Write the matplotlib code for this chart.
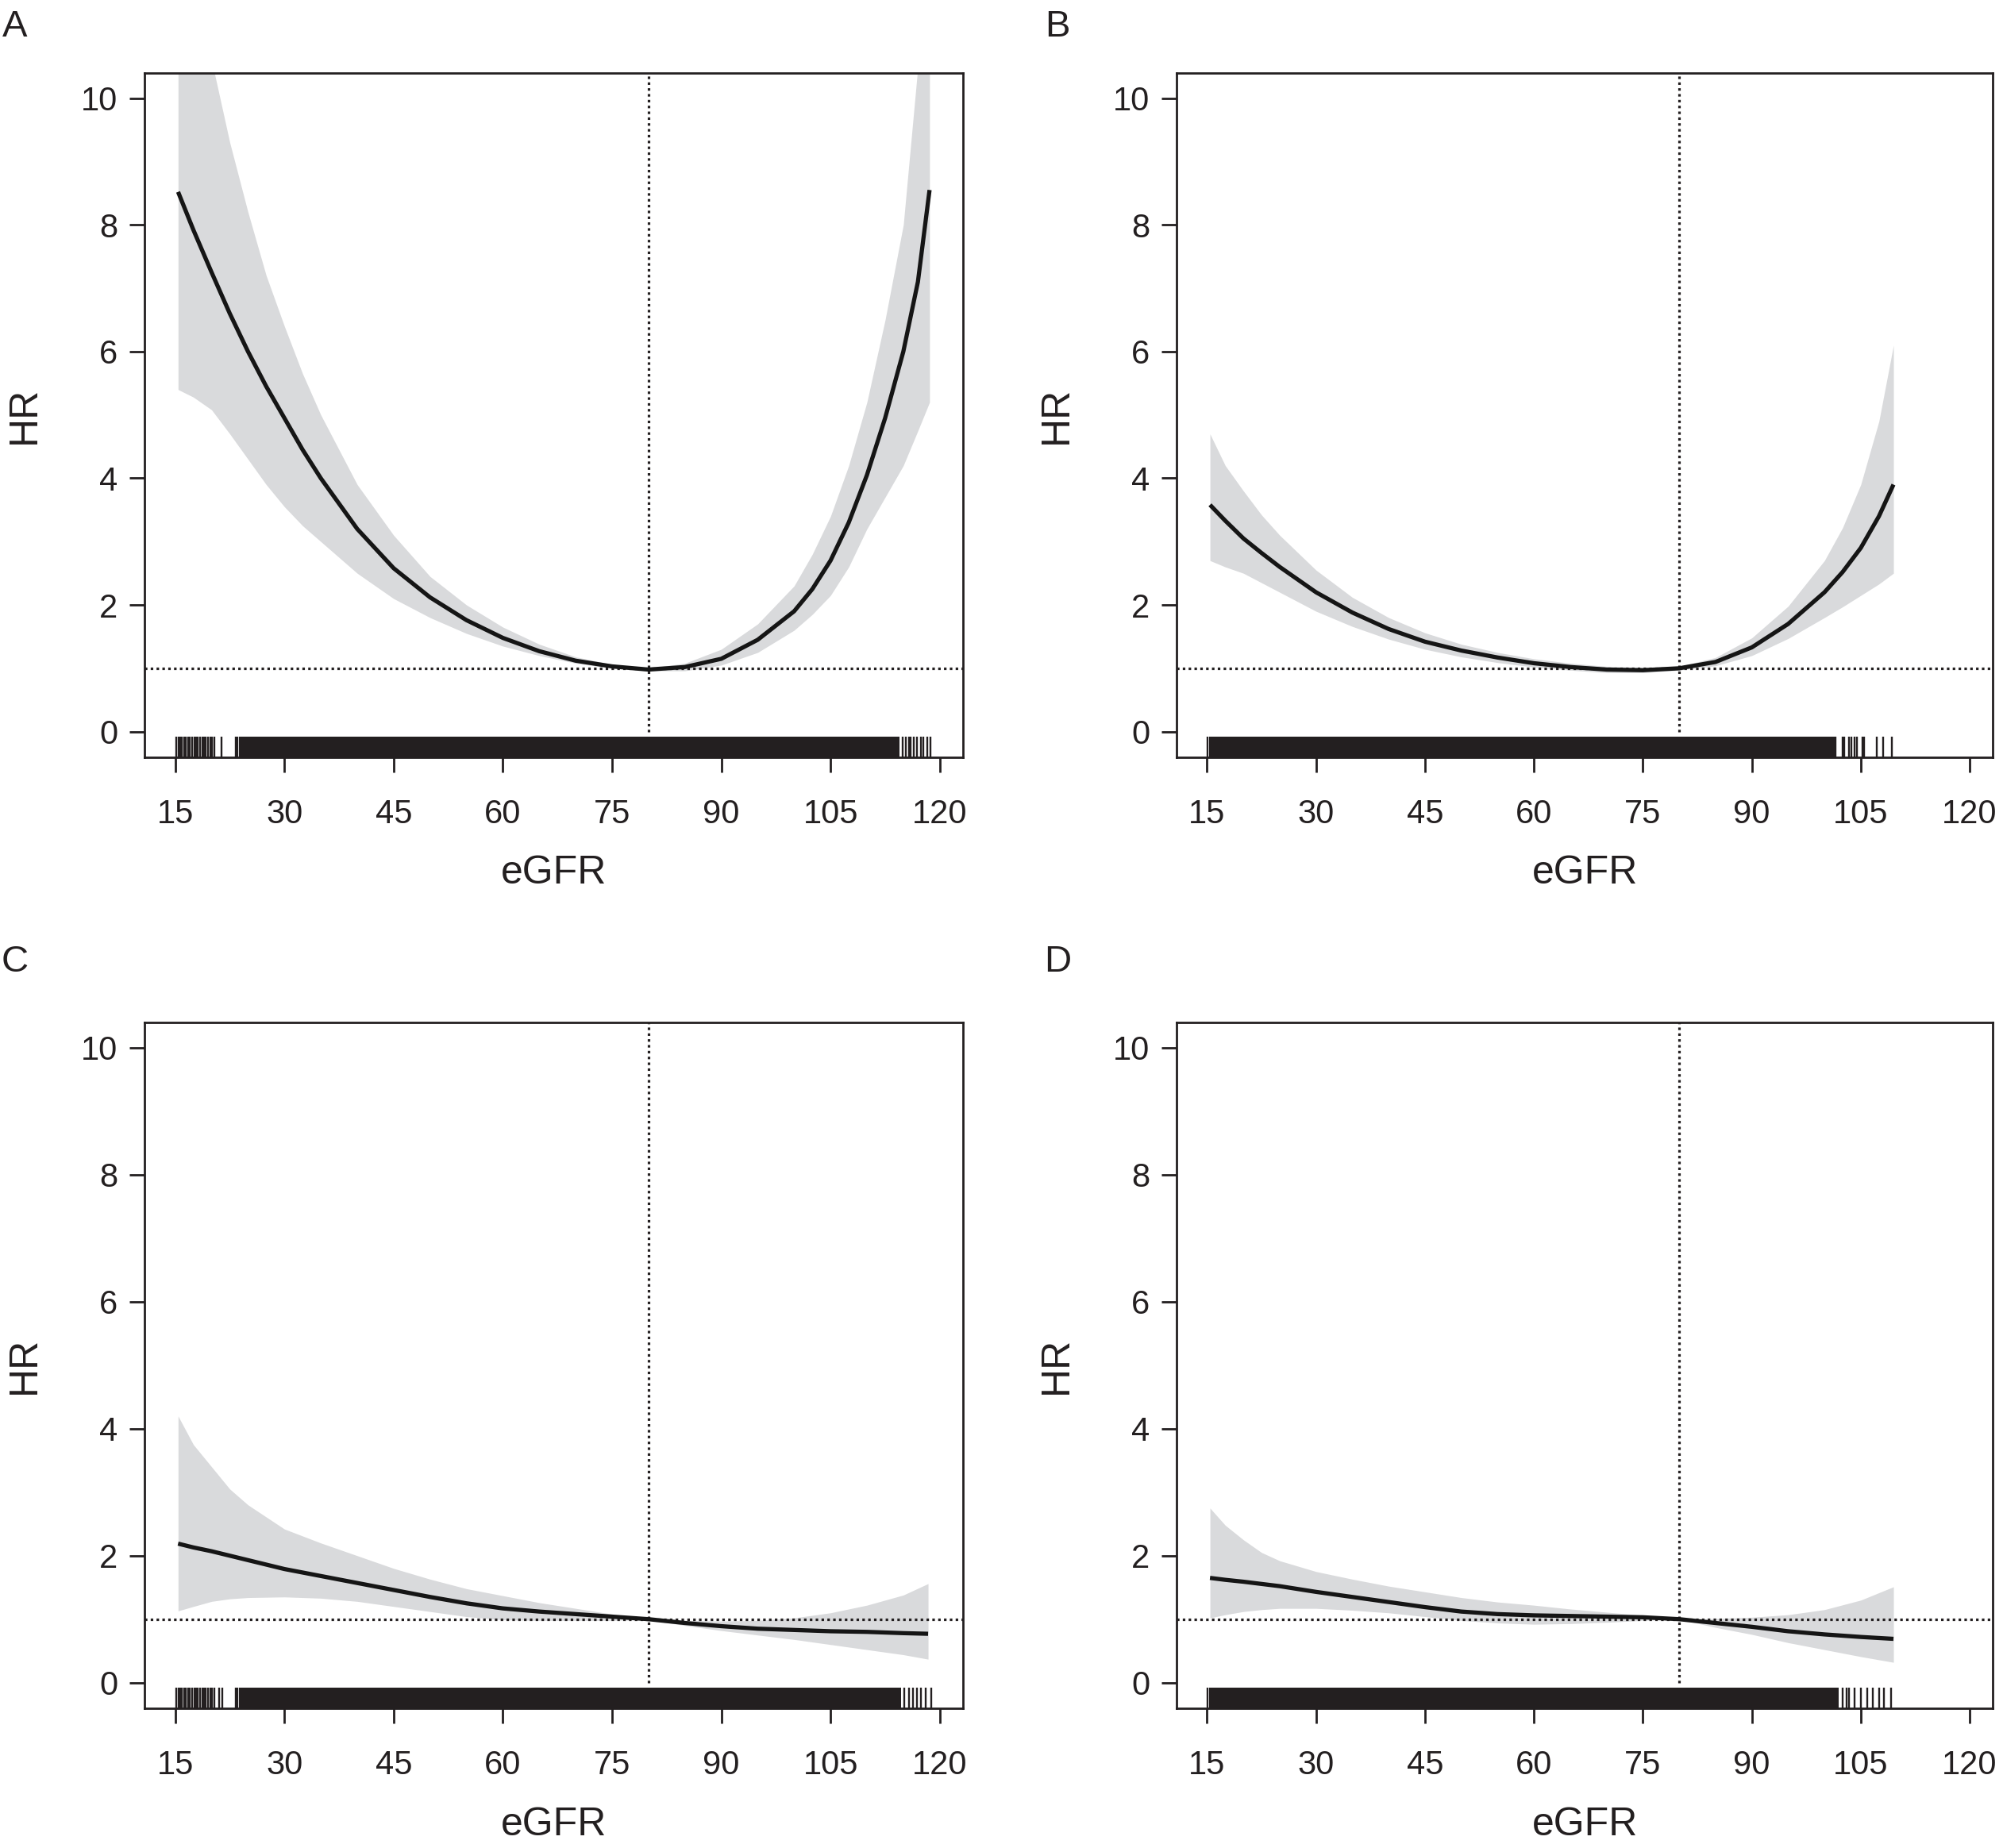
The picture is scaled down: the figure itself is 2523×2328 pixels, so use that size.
import numpy as np
import matplotlib
matplotlib.use("Agg")
import matplotlib.pyplot as plt
import matplotlib.transforms as mtransforms

plt.rcParams['font.family'] = ['Liberation Sans', 'DejaVu Sans']

INK = "#231f20"
BAND = "#d9dadc"

# ---- panel A ----
a_x = [15.4, 17.5, 20, 22.5, 25, 27.5, 30, 32.5, 35, 40, 45, 50, 55, 60, 65, 70, 75, 80,
       85, 90, 95, 100, 102.5, 105, 107.5, 110, 112.5, 115, 117, 118.6]
a_hr = [8.52, 7.92, 7.25, 6.6, 6.0, 5.45, 4.95, 4.45, 4.0, 3.2, 2.58, 2.12, 1.76, 1.48,
        1.27, 1.12, 1.03, 0.98, 1.02, 1.15, 1.45, 1.9, 2.25, 2.7, 3.3, 4.05, 4.95, 6.0,
        7.1, 8.55]
a_lo = [5.4, 5.28, 5.08, 4.7, 4.3, 3.9, 3.55, 3.25, 3.0, 2.5, 2.1, 1.8, 1.55, 1.35,
        1.2, 1.08, 1.0, 0.96, 0.96, 1.05, 1.25, 1.6, 1.85, 2.15, 2.6, 3.2, 3.7, 4.2,
        4.75, 5.2]
a_hi = [14.0, 12.5, 10.6, 9.3, 8.2, 7.2, 6.4, 5.65, 5.0, 3.9, 3.1, 2.45, 2.0, 1.65,
        1.38, 1.18, 1.06, 1.0, 1.08, 1.3, 1.7, 2.3, 2.8, 3.4, 4.2, 5.2, 6.5, 8.0,
        10.5, 14.0]
a_rug_sparse = [15.2, 15.45, 15.7, 15.95, 16.2, 16.5, 16.75, 17.0, 17.3, 17.6, 17.85,
                18.1, 18.4, 18.7, 18.95, 19.2, 19.5, 19.8, 20.1, 20.4, 21.4, 23.3, 23.5,
                114.9, 115.3, 115.8, 116.0, 116.4, 116.9, 117.4, 117.75, 118.3, 118.7]
a_rug_dense = (23.8, 114.5)

# ---- panel B ----
b_x = [15.4, 17.5, 20, 22.5, 25, 30, 35, 40, 45, 50, 55, 60, 65, 70, 75, 80,
       85, 90, 95, 100, 102.5, 105, 107.5, 109.5]
b_hr = [3.58, 3.33, 3.05, 2.82, 2.6, 2.2, 1.88, 1.62, 1.42, 1.28, 1.17, 1.08, 1.02, 0.98,
        0.97, 1.0, 1.1, 1.33, 1.7, 2.2, 2.52, 2.9, 3.4, 3.9]
b_lo = [2.7, 2.6, 2.5, 2.35, 2.2, 1.9, 1.66, 1.46, 1.3, 1.18, 1.09, 1.02, 0.97, 0.93,
        0.93, 0.97, 1.04, 1.2, 1.47, 1.8, 1.97, 2.15, 2.33, 2.5]
b_hi = [4.7, 4.2, 3.8, 3.42, 3.1, 2.55, 2.12, 1.8, 1.56, 1.38, 1.25, 1.15, 1.08, 1.03,
        1.01, 1.03, 1.17, 1.48, 1.98, 2.7, 3.22, 3.9, 4.9, 6.1]
b_rug_sparse = [15.1, 101.5, 102.45, 102.7, 103.4, 103.65, 104.1, 104.5,
                105.25, 105.5, 107.2, 108.1, 109.25]
b_rug_dense = (15.3, 101.4)

# ---- panel C ----
c_x = [15.4, 17.5, 20, 22.5, 25, 30, 35, 40, 45, 50, 55, 60, 65, 70, 75, 80,
       85, 90, 95, 100, 105, 110, 115, 118.4]
c_hr = [2.19, 2.13, 2.07, 2.0, 1.93, 1.79, 1.68, 1.57, 1.46, 1.35, 1.25, 1.17, 1.12,
        1.08, 1.04, 1.0, 0.94, 0.89, 0.85, 0.83, 0.81, 0.8, 0.78, 0.77]
c_lo = [1.13, 1.2, 1.28, 1.32, 1.34, 1.35, 1.33, 1.28, 1.2, 1.12, 1.04, 0.99, 0.98,
        0.98, 0.98, 0.99, 0.9, 0.82, 0.75, 0.68, 0.6, 0.52, 0.44, 0.37]
c_hi = [4.2, 3.75, 3.4, 3.05, 2.8, 2.42, 2.2, 2.0, 1.8, 1.63, 1.48, 1.37, 1.26, 1.17,
        1.08, 1.0, 0.98, 0.97, 0.98, 1.02, 1.1, 1.22, 1.38, 1.56]
c_rug_sparse = [15.2, 15.45, 15.7, 15.95, 16.2, 16.5, 16.75, 17.0, 17.3, 17.6, 17.85,
                18.1, 18.4, 18.7, 18.95, 19.2, 19.5, 19.8, 20.1, 20.4, 21.0, 21.5,
                23.3, 23.5,
                115.1, 115.8, 116.3, 116.9, 117.4, 118.1, 118.8]
c_rug_dense = (23.8, 114.7)

# ---- panel D ----
d_x = [15.4, 17.5, 20, 22.5, 25, 30, 35, 40, 45, 50, 55, 60, 65, 70, 75, 80,
       85, 90, 95, 100, 105, 109.5]
d_hr = [1.65, 1.62, 1.59, 1.555, 1.52, 1.43, 1.35, 1.27, 1.19, 1.12, 1.08, 1.06, 1.05,
        1.04, 1.03, 1.0, 0.94, 0.88, 0.81, 0.76, 0.72, 0.69]
d_lo = [1.02, 1.07, 1.12, 1.15, 1.17, 1.17, 1.14, 1.1, 1.04, 0.98, 0.94, 0.92, 0.93,
        0.95, 0.98, 1.0, 0.87, 0.76, 0.63, 0.52, 0.41, 0.32]
d_hi = [2.75, 2.48, 2.25, 2.05, 1.92, 1.75, 1.63, 1.52, 1.43, 1.34, 1.27, 1.22, 1.16,
        1.11, 1.06, 1.0, 1.01, 1.03, 1.07, 1.15, 1.3, 1.51]
d_rug_sparse = [15.1, 102.5, 103.0, 103.4, 104.1, 105.0, 105.9, 106.7,
                107.5, 108.2, 109.2]
d_rug_dense = (15.3, 102.0)

x_ticks = [15, 30, 45, 60, 75, 90, 105, 120]
y_ticks = [0, 2, 4, 6, 8, 10]
ref_egfr = 80
ref_hr = 1

panels = [
    ("A", a_x, a_hr, a_lo, a_hi, a_rug_sparse, a_rug_dense),
    ("B", b_x, b_hr, b_lo, b_hi, b_rug_sparse, b_rug_dense),
    ("C", c_x, c_hr, c_lo, c_hi, c_rug_sparse, c_rug_dense),
    ("D", d_x, d_hr, d_lo, d_hi, d_rug_sparse, d_rug_dense),
]

W, H = 2523, 2328
fig = plt.figure(figsize=(W / 100, H / 100), dpi=100)

# axes boxes in pixels: left, top, right, bottom
boxes = [
    (182.5, 91.7, 1212.7, 953.6),
    (1482.4, 91.7, 2510.0, 953.6),
    (182.5, 1288.0, 1212.7, 2151.7),
    (1482.4, 1288.0, 2510.0, 2151.7),
]
letter_pos = [(19, 34), (1332, 34), (19, 1212), (1332, 1212)]

dotted = (0, (1, 1.3))

for (name, x, hr, lo, hi, rug_sp, rug_dn), box, lp in zip(panels, boxes, letter_pos):
    l, t, r, b = box
    ax = fig.add_axes([l / W, 1 - b / H, (r - l) / W, (b - t) / H])

    ax.fill_between(x, lo, hi, color=BAND, linewidth=0, zorder=1)
    ax.plot(x, hr, color="#151515", lw=3.8, solid_joinstyle="round",
            solid_capstyle="butt", zorder=3)

    ax.axhline(ref_hr, color=INK, lw=2.3, ls=dotted, zorder=2)
    ax.plot([ref_egfr, ref_egfr], [0, 10.4], color=INK, lw=2.3, ls=dotted, zorder=2)

    # rug along the bottom
    trans = mtransforms.blended_transform_factory(ax.transData, ax.transAxes)
    ax.axvspan(rug_dn[0], rug_dn[1], ymin=0, ymax=0.03, color=INK, lw=0, zorder=4)
    ax.vlines(rug_sp, 0, 0.03, transform=trans, color=INK, lw=1.7, zorder=4)

    ax.set_xlim(10.84, 123.16)
    ax.set_ylim(-0.4, 10.4)
    ax.set_xticks(x_ticks)
    ax.set_yticks(y_ticks)
    ax.set_xticklabels([str(v) for v in x_ticks])
    ax.set_yticklabels([str(v) for v in y_ticks])
    ax.tick_params(axis="both", direction="out", length=13.5, width=2.0,
                   colors=INK, labelsize=30)
    ax.tick_params(axis="x", pad=24)
    ax.tick_params(axis="y", pad=11)
    for s in ax.spines.values():
        s.set_linewidth(2.0)
        s.set_color(INK)

    ax.text(0.5, -0.17, "eGFR", transform=ax.transAxes, ha="center", va="center",
            fontsize=36, color=INK)
    ax.text(-0.147, 0.5, "HR", transform=ax.transAxes, ha="center", va="center",
            rotation=90, fontsize=36, color=INK)

    fig.text(lp[0] / W, 1 - lp[1] / H, name, ha="center", va="center",
             fontsize=34, color=INK)

fig.savefig("out.png", dpi=100, facecolor="white")
